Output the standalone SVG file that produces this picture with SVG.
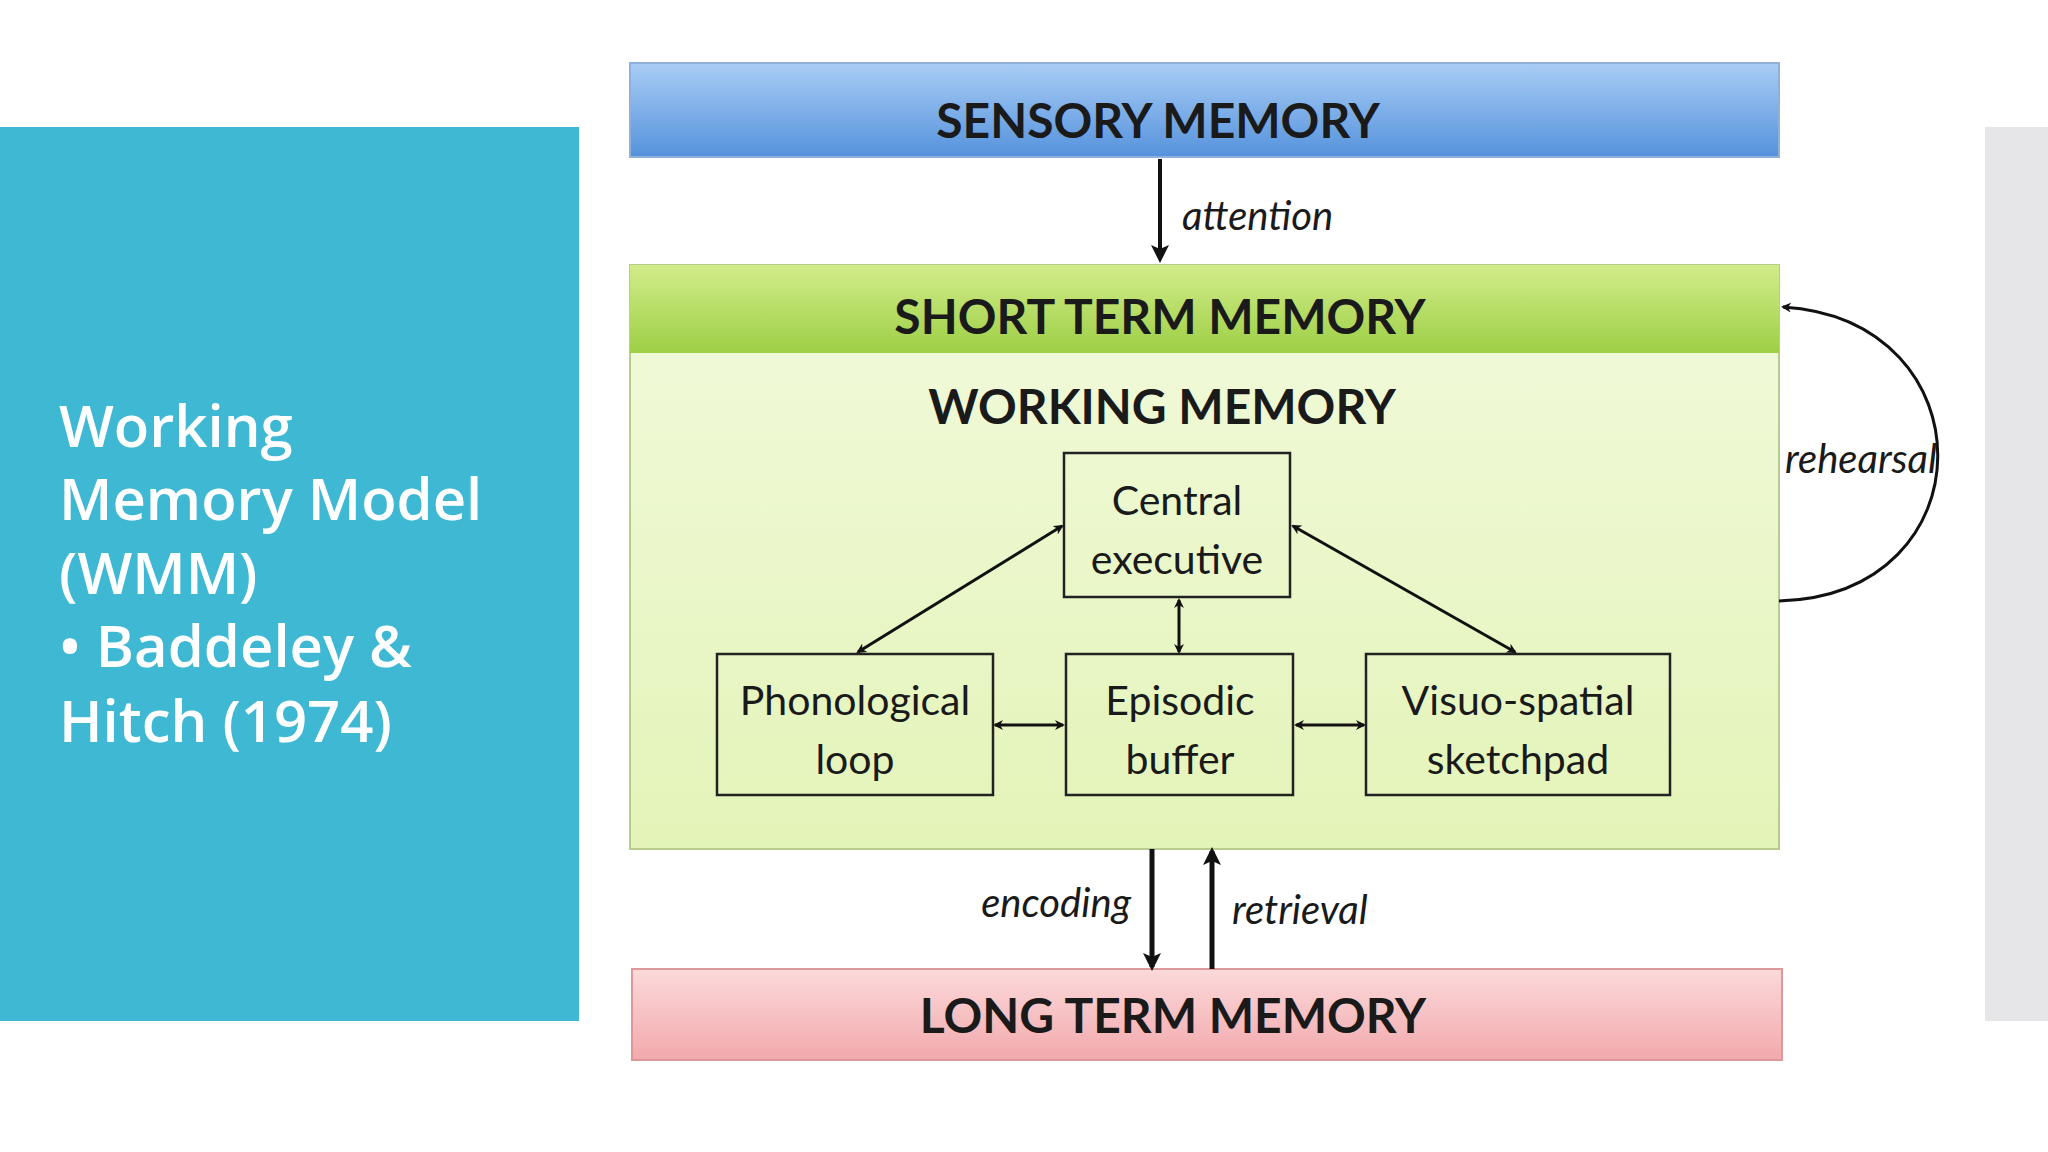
<svg xmlns="http://www.w3.org/2000/svg" width="2048" height="1152" viewBox="0 0 2048 1152">
<defs>
<linearGradient id="gb" x1="0" y1="0" x2="0" y2="1"><stop offset="0" stop-color="#a9cdf5"/><stop offset="1" stop-color="#5592dc"/></linearGradient>
<linearGradient id="gg" x1="0" y1="0" x2="0" y2="1"><stop offset="0" stop-color="#d2ec8a"/><stop offset="1" stop-color="#9dcf45"/></linearGradient>
<linearGradient id="gl" x1="0" y1="0" x2="0" y2="1"><stop offset="0" stop-color="#f2fadc"/><stop offset="1" stop-color="#e3f4b8"/></linearGradient>
<linearGradient id="gp" x1="0" y1="0" x2="0" y2="1"><stop offset="0" stop-color="#fbd9da"/><stop offset="1" stop-color="#f2a9ad"/></linearGradient>
<marker id="ah" markerWidth="10" markerHeight="10" refX="8" refY="5" orient="auto-start-reverse" markerUnits="userSpaceOnUse"><path d="M0,0 L10,5 L0,10 L3,5 Z" fill="#111"/></marker>
<marker id="ab" markerWidth="18" markerHeight="18" refX="14" refY="9" orient="auto-start-reverse" markerUnits="userSpaceOnUse"><path d="M0,0 L18,9 L0,18 L4,9 Z" fill="#111"/></marker>
</defs>
<style>
.hd{font-family:Lato,"Open Sans",sans-serif;font-weight:bold;font-size:48px;fill:#1a1a1a;text-anchor:middle}
.bx{fill:none;stroke:#222;stroke-width:2.5}
.bt{font-family:Lato,"Open Sans",sans-serif;font-size:41px;fill:#1a1a1a;text-anchor:middle}
.lb{font-family:Lato,"Open Sans",sans-serif;font-style:italic;font-size:40px;fill:#1a1a1a}
.ti{font-family:"Open Sans",sans-serif;font-weight:600;font-size:58px;fill:#fff}
</style>
<rect width="2048" height="1152" fill="#fff"/>
<g id="panel"><rect x="0" y="127" width="579" height="894" fill="#3fb8d4"/>
<text class="ti" x="59" y="447">Working</text>
<text class="ti" x="59" y="520">Memory Model</text>
<text class="ti" x="59" y="594">(WMM)</text>
<text class="ti" x="59" y="667">• Baddeley &amp;</text>
<text class="ti" x="59" y="742">Hitch (1974)</text></g>
<rect x="1985" y="127" width="63" height="894" fill="#e6e6e8"/>
<g id="sensory"><rect x="630" y="63" width="1149" height="94" fill="url(#gb)" stroke="#8fb0d8" stroke-width="2"/><text class="hd" x="1158" y="138">SENSORY MEMORY</text></g>
<g id="stm"><rect x="630" y="265" width="1149" height="584" fill="url(#gl)" stroke="#b8cc90" stroke-width="2"/><rect x="630" y="265" width="1149" height="88" fill="url(#gg)"/><text class="hd" x="1160" y="334">SHORT TERM MEMORY</text>
<text class="hd" x="1162" y="424">WORKING MEMORY</text></g>
<g id="ce"><rect class="bx" x="1064" y="453" width="226" height="144"/><text class="bt" x="1177" y="515">Central</text><text class="bt" x="1177" y="574">executive</text></g>
<g id="pl"><rect class="bx" x="717" y="654" width="276" height="141"/><text class="bt" x="855" y="715">Phonological</text><text class="bt" x="855" y="774">loop</text></g>
<g id="eb"><rect class="bx" x="1066" y="654" width="227" height="141"/><text class="bt" x="1180" y="715">Episodic</text><text class="bt" x="1180" y="774">buffer</text></g>
<g id="vs"><rect class="bx" x="1366" y="654" width="304" height="141"/><text class="bt" x="1518" y="715">Visuo-spatial</text><text class="bt" x="1518" y="774">sketchpad</text></g>
<g id="ltm"><rect x="632" y="969" width="1150" height="91" fill="url(#gp)" stroke="#d99" stroke-width="2"/><text class="hd" x="1173" y="1033">LONG TERM MEMORY</text></g>
<g id="connectors" stroke="#111" fill="none">
<line x1="1160" y1="159" x2="1160" y2="259" stroke-width="4" marker-end="url(#ab)"/>
<line x1="1062" y1="526" x2="858" y2="652" stroke-width="3" marker-start="url(#ah)" marker-end="url(#ah)"/>
<line x1="1293" y1="526" x2="1515" y2="652" stroke-width="3" marker-start="url(#ah)" marker-end="url(#ah)"/>
<line x1="1179" y1="600" x2="1179" y2="652" stroke-width="3" marker-start="url(#ah)" marker-end="url(#ah)"/>
<line x1="995" y1="725" x2="1063" y2="725" stroke-width="3" marker-start="url(#ah)" marker-end="url(#ah)"/>
<line x1="1296" y1="725" x2="1364" y2="725" stroke-width="3" marker-start="url(#ah)" marker-end="url(#ah)"/>
<path d="M1779,601 C1990,595 1990,320 1783,307" stroke-width="3" marker-end="url(#ah)"/>
<line x1="1152" y1="849" x2="1152" y2="967" stroke-width="5" marker-end="url(#ab)"/>
<line x1="1212" y1="969" x2="1212" y2="851" stroke-width="5" marker-end="url(#ab)"/>
</g>
<text class="lb" x="1182" y="230">attention</text>
<text class="lb" x="1861" y="473" text-anchor="middle">rehearsal</text>
<text class="lb" x="1131" y="917" text-anchor="end">encoding</text>
<text class="lb" x="1232" y="924">retrieval</text>
</svg>
